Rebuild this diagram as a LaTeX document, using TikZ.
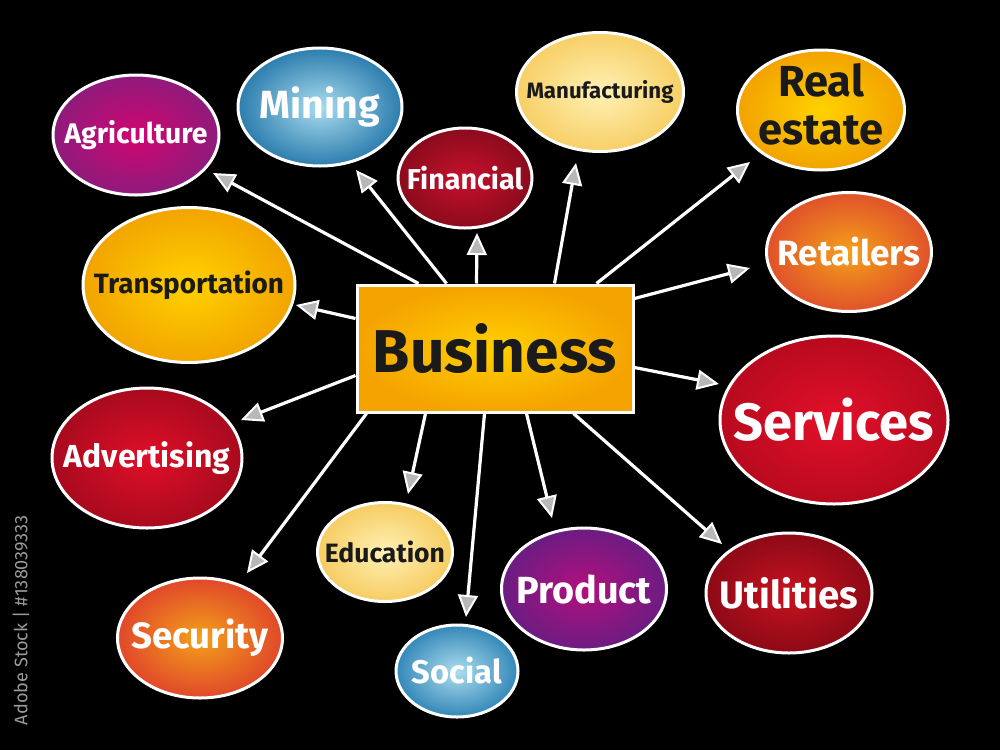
\documentclass[tikz,border=0pt]{standalone}
\usepackage{fontspec}
\setmainfont{Fira Sans}
\usetikzlibrary{shapes.geometric,arrows.meta,calc}
\definecolor{agriIn}{HTML}{D10670}\definecolor{agriOut}{HTML}{8E1B7C}
\definecolor{mineIn}{HTML}{A9DCEE}\definecolor{mineOut}{HTML}{2C7DAE}
\definecolor{finIn}{HTML}{C8102E}\definecolor{finOut}{HTML}{8A0B1C}
\definecolor{manIn}{HTML}{FFF1B5}\definecolor{manOut}{HTML}{F7CF66}
\definecolor{realIn}{HTML}{FFD200}\definecolor{realOut}{HTML}{F2A200}
\definecolor{retIn}{HTML}{F4A01A}\definecolor{retOut}{HTML}{E0522A}
\definecolor{servIn}{HTML}{E3102A}\definecolor{servOut}{HTML}{B80A1E}
\definecolor{utilIn}{HTML}{C8121F}\definecolor{utilOut}{HTML}{8C0A16}
\definecolor{prodIn}{HTML}{B3107E}\definecolor{prodOut}{HTML}{6B1C82}
\definecolor{socIn}{HTML}{ACDDEE}\definecolor{socOut}{HTML}{3387B8}
\definecolor{eduIn}{HTML}{FFF1B5}\definecolor{eduOut}{HTML}{F6CC62}
\definecolor{secIn}{HTML}{F4A01A}\definecolor{secOut}{HTML}{E0482A}
\definecolor{advIn}{HTML}{E00F28}\definecolor{advOut}{HTML}{A80A1E}
\definecolor{trIn}{HTML}{FFD200}\definecolor{trOut}{HTML}{F2A400}
\definecolor{bizIn}{HTML}{FFD000}\definecolor{bizOut}{HTML}{F5A300}
\definecolor{ink}{HTML}{1A1A1A}
\definecolor{wm}{HTML}{9A9A9A}
\newcommand{\fitw}[2]{\resizebox{#1}{!}{\bfseries #2}}
\begin{document}
\begin{tikzpicture}[x=1pt,y=-1pt,
  bub/.style 2 args={ellipse, draw=white, line width=3pt, inner sep=0pt,
    inner color=#1, outer color=#2},
  wtext/.style={text=white, inner sep=0pt},
  btext/.style={text=ink, inner sep=0pt},
  link/.style={draw=white, line width=3.2pt,
    -{Triangle[length=22pt, width=20pt, line width=2pt, fill=white!72!black]}}]
\fill[black] (0,0) rectangle (1000,750);
\useasboundingbox (0,0) rectangle (1000,750);

% central node
\node[rectangle, draw=white, line width=3pt, inner color=bizIn, outer color=bizOut,
  minimum width=276pt, minimum height=127pt, inner sep=0pt, text=ink] (biz) at (495,348.5)
  {\fitw{244pt}{Business}};

% topic nodes (ellipse with its text as centred label)
\node[bub={agriIn}{agriOut}, minimum width=166pt, minimum height=120pt,
  label={[wtext]center:\fitw{143pt}{Agriculture}}] (agri) at (136,135) {};
\node[bub={mineIn}{mineOut}, minimum width=164pt, minimum height=118pt,
  label={[wtext]center:\fitw{120pt}{Mining}}] (mine) at (320,107) {};
\node[bub={finIn}{finOut}, minimum width=134pt, minimum height=100pt,
  label={[wtext]center:\fitw{116pt}{Financial}}] (fin) at (465,178) {};
\node[bub={manIn}{manOut}, minimum width=167pt, minimum height=119pt,
  label={[btext]center:\fitw{147pt}{Manufacturing}}] (man) at (600,92) {};
\node[bub={realIn}{realOut}, minimum width=167pt, minimum height=120pt,
  label={[btext]center:\resizebox{125pt}{!}{\bfseries\begin{tabular}{@{}c@{}}Real\\[-1pt]estate\end{tabular}}}] (real) at (821,110) {};
\node[bub={retIn}{retOut}, minimum width=165pt, minimum height=119pt,
  label={[wtext]center:\fitw{143pt}{Retailers}}] (ret) at (849,252) {};
\node[bub={servIn}{servOut}, minimum width=228pt, minimum height=168pt,
  label={[wtext]center:\fitw{200pt}{Services}}] (serv) at (834,420) {};
\node[bub={utilIn}{utilOut}, minimum width=166pt, minimum height=120pt,
  label={[wtext]center:\fitw{138pt}{Utilities}}] (util) at (789,593) {};
\node[bub={prodIn}{prodOut}, minimum width=165pt, minimum height=122pt,
  label={[wtext]center:\fitw{135pt}{Product}}] (prod) at (584,589) {};
\node[bub={socIn}{socOut}, minimum width=122pt, minimum height=92pt,
  label={[wtext]center:\fitw{90pt}{Social}}] (soc) at (457,671) {};
\node[bub={eduIn}{eduOut}, minimum width=135pt, minimum height=99pt,
  label={[btext]center:\fitw{120pt}{Education}}] (edu) at (385,552) {};
\node[bub={secIn}{secOut}, minimum width=165pt, minimum height=120pt,
  label={[wtext]center:\fitw{137pt}{Security}}] (sec) at (200,638) {};
\node[bub={advIn}{advOut}, minimum width=190pt, minimum height=140pt,
  label={[wtext]center:\fitw{166pt}{Advertising}}] (adv) at (147,458) {};
\node[bub={trIn}{trOut}, minimum width=212pt, minimum height=155pt,
  label={[btext]center:\fitw{190pt}{Transportation}}] (tr) at (189,285) {};

% arrow tips (free ends)
\coordinate (tAgri) at (213,173);
\coordinate (tMine) at (356,170);
\coordinate (tFin) at (477,233);
\coordinate (tMan) at (576,163);
\coordinate (tReal) at (750,162);
\coordinate (tRet) at (750,268);
\coordinate (tServ) at (719,384);
\coordinate (tUtil) at (722,544);
\coordinate (tProd) at (552,518);
\coordinate (tSoc) at (466,617);
\coordinate (tEdu) at (408,494);
\coordinate (tSec) at (247,573);
\coordinate (tAdv) at (241,420);
\coordinate (tTr) at (296,305);

% connectors
\draw[link] ([xshift=63pt]biz.north west) -- (tAgri);
\draw[link] ([xshift=91pt]biz.north west) -- (tMine);
\draw[link] ([xshift=121pt]biz.north west) -- (tFin);
\draw[link] ([xshift=199pt]biz.north west) -- (tMan);
\draw[link] ([xshift=241pt]biz.north west) -- (tReal);
\draw[link] ([yshift=-15pt]biz.north east) -- (tRet);
\draw[link] ([yshift=-84pt]biz.north east) -- (tServ);
\draw[link] ([xshift=218pt]biz.south west) -- (tUtil);
\draw[link] ([xshift=171pt]biz.south west) -- (tProd);
\draw[link] ([xshift=129pt]biz.south west) -- (tSoc);
\draw[link] ([xshift=70pt]biz.south west) -- (tEdu);
\draw[link] ([xshift=11pt]biz.south west) -- (tSec);
\draw[link] ([yshift=-92pt]biz.north west) -- (tAdv);
\draw[link] ([yshift=-35pt]biz.north west) -- (tTr);

% stock label
\node[rotate=90, text=wm, inner sep=0pt] (stock) at (21,620)
  {\resizebox{210pt}{!}{Adobe Stock | \#138039333}};
\end{tikzpicture}
\end{document}
